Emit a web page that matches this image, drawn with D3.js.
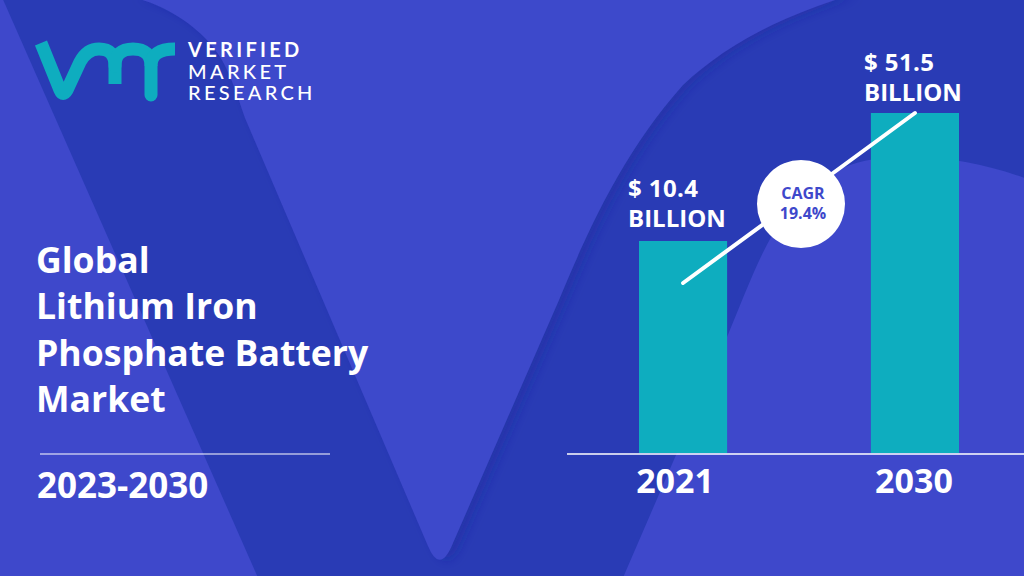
<!DOCTYPE html>
<meta charset="utf-8">
<head>
    <script src="https://d3js.org/d3.v7.min.js"></script>
    <style>
    html, body { margin: 0; padding: 0; background: #3e48cb; overflow: hidden; }
    text { font-family: "Open Sans", "Noto Sans", sans-serif; font-weight: 700; fill: #fff; }
    .logoText { font-family: Lato, sans-serif; letter-spacing: 3.3px; font-size: 20px; }
    </style>
</head>
<body>
<svg id="chart" width="1024" height="576"></svg>
<script>

// chart values
var years = ["2021", "2030"];
var values = [10.4, 51.5];
var valueLabels = ["$ 10.4", "$ 51.5"];
var unitLabel = "BILLION";
var cagrLabels = ["CAGR", "19.4%"];
var titleLines = ["Global", "Lithium Iron", "Phosphate Battery", "Market"];
var periodLabel = "2023-2030";
var logoLines = ["VERIFIED", "MARKET", "RESEARCH"];

var lightBlue = "#3e48cb",
    darkBlue = "#293bb5",
    teal = "#0eadbf";

var svg = d3.select("#chart");
var defs = svg.append("defs");

defs.append("filter").attr("id", "soft")
    .attr("x", "-10%").attr("width", "120%")
    .append("feDropShadow")
    .attr("dx", 7).attr("dy", 0)
    .attr("stdDeviation", 6)
    .attr("flood-color", "#1c2c98")
    .attr("flood-opacity", 0.4);

// background: dark field with the big light "V" cut out of it
svg.append("rect").attr("width", 1024).attr("height", 576).attr("fill", darkBlue);

svg.append("path")
    .attr("fill", lightBlue)
    .attr("d", "M-5,-5 L1,-5 L259,580 L-5,580 Z");

svg.append("path")
    .attr("fill", lightBlue)
    .attr("filter", "url(#soft)")
    .attr("d", "M130,-3 C165,3 205,30 222,60 C232,78 237,95 245,118 L428,546 Q440,575 453,543 " +
               "L559,300 C590,225 625,150 683,85 C720,50 770,20 850,-5 Z");

svg.append("path")
    .attr("fill", lightBlue)
    .attr("d", "M622,580 L727,337 C745,295 760,250 785,215 C815,175 850,158 900,157 " +
               "C950,156 990,165 1030,180 L1030,580 Z");

// logo
var logo = svg.append("g").attr("fill", "none").attr("stroke", teal)
    .attr("stroke-width", 13).attr("stroke-linecap", "round").attr("stroke-linejoin", "round");
logo.append("path").attr("stroke-linecap", "butt")
    .attr("d", "M41,43 L60,90 Q63,97 67,90 L80,62 Q87,49 99,49 Q115,49 115,66 L115,84");
logo.append("path").attr("d", "M115,66 Q115,49 133,49 Q151,49 151,66 L151,95");
logo.append("path").attr("stroke-linecap", "butt").attr("d", "M151,66 Q151,49 175,49");

svg.selectAll(".logoText")
    .data(logoLines)
    .enter().append("text")
    .attr("class", "logoText")
    .attr("x", 188)
    .attr("y", function(d, i) { return 57 + i * 21.7; })
    .style("font-weight", function(d, i) { return i == 0 ? 700 : 500; })
    .text(function(d) { return d; });

// left hand title block
svg.selectAll(".title")
    .data(titleLines)
    .enter().append("text")
    .attr("class", "title")
    .attr("x", 36)
    .attr("y", function(d, i) { return 273 + i * 46.3; })
    .style("font-size", "35.6px")
    .text(function(d) { return d; });

svg.append("line")
    .attr("x1", 40).attr("x2", 330)
    .attr("y1", 454).attr("y2", 454)
    .attr("stroke", "#fff").attr("stroke-width", 1.2);

svg.append("text")
    .attr("x", 37).attr("y", 498)
    .style("font-size", "35px")
    .text(periodLabel);

// the bars in the picture are not to scale: the axis is cut off well below 10.4
var baseline = 453;
var x = d3.scaleBand().domain(years).range([639, 959]).paddingInner(0.62).paddingOuter(0);
var y = d3.scaleLinear().domain([10.4, 51.5]).range([241, 113]);

svg.selectAll(".bar")
    .data(values)
    .enter().append("rect")
    .attr("class", "bar")
    .attr("fill", teal)
    .attr("x", function(d, i) { return x(years[i]); })
    .attr("width", x.bandwidth())
    .attr("y", function(d) { return y(d); })
    .attr("height", function(d) { return baseline - y(d); });

// x axis, line runs off the right edge
var axis = svg.append("g")
    .attr("transform", "translate(0," + baseline + ")")
    .call(d3.axisBottom(x).tickSize(0));
axis.select(".domain").remove();
axis.selectAll("text")
    .attr("y", 40)
    .attr("dy", 0)
    .attr("dx", function(d, i) { return i == 0 ? -8 : -1; })
    .style("font-size", "34px")
    .style("font-family", "'Open Sans', sans-serif");

svg.append("line")
    .attr("x1", 567).attr("x2", 1024)
    .attr("y1", baseline + 1).attr("y2", baseline + 1)
    .attr("stroke", "#fff").attr("stroke-width", 1.6);

// value labels above the bars
var labelX = [628, 864];
var labelY = [197, 71];
valueLabels.forEach(function(label, i) {
    svg.append("text").attr("x", labelX[i]).attr("y", labelY[i])
        .style("font-size", "24px").style("letter-spacing", "0.4px").text(label);
    svg.append("text").attr("x", labelX[i]).attr("y", labelY[i] + 30)
        .style("font-size", "24px").text(unitLabel);
});

// growth line and CAGR badge
svg.append("line")
    .attr("x1", x(years[0]) + x.bandwidth() / 2)
    .attr("y1", y(values[0]) + 42)
    .attr("x2", x(years[1]) + x.bandwidth() / 2)
    .attr("y2", y(values[1]))
    .attr("stroke", "#fff").attr("stroke-width", 4).attr("stroke-linecap", "round");

svg.append("circle").attr("cx", 801).attr("cy", 204).attr("r", 44).attr("fill", "#fff");

svg.selectAll(".cagr")
    .data(cagrLabels)
    .enter().append("text")
    .attr("class", "cagr")
    .attr("x", 803)
    .attr("y", function(d, i) { return 199 + i * 20; })
    .attr("text-anchor", "middle")
    .style("fill", lightBlue)
    .style("font-size", "16px")
    .text(function(d) { return d; });

</script>
</body>
